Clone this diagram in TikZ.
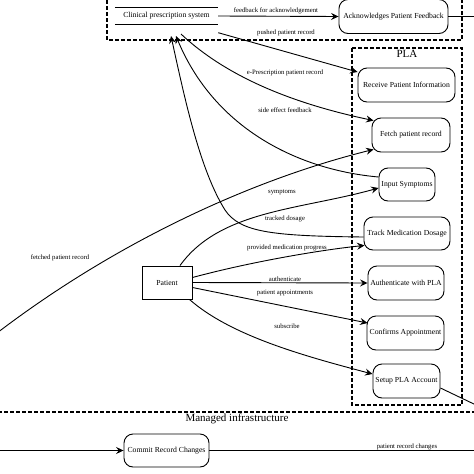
\documentclass[tikz,border=0pt]{standalone}
\usepackage{fontspec}
\setmainfont{Liberation Serif}
\usetikzlibrary{arrows.meta,calc}
\newcommand\nfont{\fontsize{7.7}{8.5}\selectfont}
\newcommand\lfont{\fontsize{6.7}{7}\selectfont}
\newcommand\tfont{\fontsize{11}{12}\selectfont}
\tikzset{
  proc/.style={draw, rounded corners=9pt, line width=0.9pt, font=\nfont, inner sep=0.5pt, align=center},
  ent/.style={draw, line width=0.9pt, font=\nfont, inner sep=1pt},
  lbl/.style={font=\lfont, inner sep=0.5pt},
  ttl/.style={font=\tfont, inner sep=0pt},
  conn/.style={line width=0.9pt},
  arr/.style={line width=0.9pt, -{Stealth[length=7.5pt,width=7pt,inset=2.7pt]}},
  dbox/.style={line width=1.1pt, dash pattern=on 4pt off 2pt}
}
\begin{document}
\begin{tikzpicture}[x=1pt,y=-1pt]
\useasboundingbox (0,0) rectangle (474,474);
\clip (0,0) rectangle (474,474);

% containers
\draw[dbox] (107,-6) -- (107,40) -- (462,40) -- (462,-6);
\draw[dbox] (352,48) rectangle (462,405);
\node[ttl] (plat) at (407,54) {PLA};
\draw[dbox] (-2,412) -- (476,412);
\node[ttl] (mit) at (237,418.5) {Managed infrastructure};

% data store
\node[font=\nfont, minimum width=103pt, minimum height=17pt, inner sep=0pt] (cps) at (166.5,16) {Clinical prescription system};
\draw[conn] (cps.north west) -- (cps.north east);
\draw[conn] (cps.south west) -- (cps.south east);

% processes
\node[proc, minimum width=109pt, minimum height=34pt] (ack) at (393.5,16.5) {Acknowledges Patient Feedback};
\node[proc, minimum width=97pt, minimum height=34pt] (rpi) at (406.5,85) {Receive Patient Information};
\node[proc, minimum width=78pt, minimum height=34pt] (fpr) at (411,135) {Fetch patient record};
\node[proc, minimum width=56pt, minimum height=33pt] (ins) at (407,184.5) {Input Symptoms};
\node[proc, minimum width=86pt, minimum height=33pt] (tmd) at (407,233.5) {Track Medication Dosage};
\node[proc, minimum width=76pt, minimum height=34pt] (auth) at (406,283) {Authenticate with PLA};
\node[proc, minimum width=77pt, minimum height=34pt] (conf) at (405.5,333) {Confirms Appointment};
\node[proc, minimum width=67pt, minimum height=34pt] (setup) at (406.5,381) {Setup PLA Account};
\node[proc, minimum width=85pt, minimum height=33pt] (commit) at (166.5,450.5) {Commit Record Changes};
\node[ent, minimum width=50pt, minimum height=33pt] (patient) at (167,282.5) {Patient};

% free ends
\coordinate (ackout) at (476,16.5);
\coordinate (fpin) at (-3,333);
\coordinate (setupout) at (476,405);
\coordinate (leftin) at (-2,450.5);
\coordinate (rightout) at (476,450.5);
\coordinate (cpsA) at (171,36);
\coordinate (cpsB) at (176,36);
\coordinate (cpsC) at (181,34);

% connectors
\draw[arr] (cps.east) -- (ack.west);
\draw[conn] (ack.east) -- (ackout);
\draw[arr] ($(cps.south east)+(0,8)$) -- ($(rpi.west)+(0,-13)$);
\draw[arr] (cpsC) .. controls (230,80) and (300,105) .. ($(fpr.north west)+(2,3)$);
\draw[arr] (ins.west |- 0,177) .. controls (300,170) and (215,130) .. (cpsB);
\draw[arr] (tmd.west |- 0,237) .. controls (270,236) and (240,232) .. (225,210) .. controls (200,170) and (185,100) .. (cpsA);
\draw[arr] (fpin) .. controls (115,243) and (250,180) .. ($(fpr.south west)+(2,-3)$);
\draw[arr] ($(patient.north)+(13,0)$) .. controls (220,210) and (300,210) .. (ins.west |- 0,188);
\draw[arr] ($(patient.east)+(0,-5)$) .. controls (250,262) and (320,250) .. ($(tmd.south west)+(1,-5)$);
\draw[arr] (patient.east) -- (auth.west);
\draw[arr] ($(patient.east)+(0,5)$) -- ($(conf.west)+(1,-10)$);
\draw[arr] ($(patient.south east)+(-3,0)$) .. controls (230,335) and (300,355) .. ($(setup.west)+(0,-7)$);
\draw[conn] ($(setup.east)+(0,7)$) -- (setupout);
\draw[arr] (leftin) -- (commit.west);
\draw[conn] (commit.east) -- (rightout);

% labels
\node[lbl] (l1) at (276,11) {feedback for acknowledgement};
\node[lbl] (l2) at (286,33) {pushed patient record};
\node[lbl] (l3) at (285,73) {e-Prescription patient record};
\node[lbl] (l4) at (285,110) {side effect feedback};
\node[lbl] (l5) at (282,192) {symptoms};
\node[lbl] (l6) at (285,219) {tracked dosage};
\node[lbl] (l7) at (287,248) {provided medication progress};
\node[lbl] (l8) at (285,279) {authenticate};
\node[lbl] (l9) at (285,293) {patient appointments};
\node[lbl] (l10) at (287,326) {subscribe};
\node[lbl] (l11) at (60,258) {fetched patient record};
\node[lbl] (l12) at (407,446.5) {patient record changes};
\end{tikzpicture}
\end{document}
